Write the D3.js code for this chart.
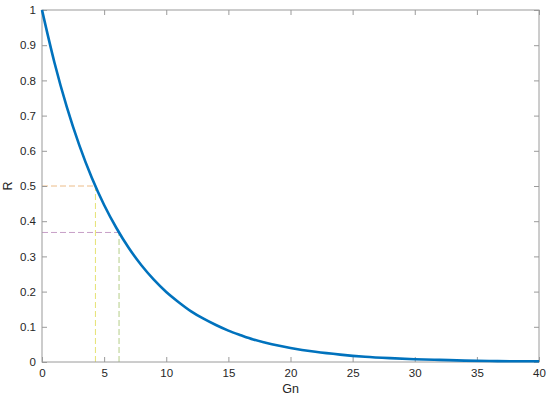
<!DOCTYPE html>
<html>
<head>
<meta charset="utf-8">
<script src="https://cdn.jsdelivr.net/npm/d3@7"></script>
<style>
  html, body { margin: 0; padding: 0; background: #fff; }
  svg { display: block; font-family: "Liberation Sans", Arial, Helvetica, sans-serif; }
</style>
</head>
<body>
<svg id="chart" width="550" height="400"></svg>
<script>
// Data
const gn = [0, 1, 2, 3, 4, 5, 6, 7, 8, 9, 10, 11, 12, 13, 14, 15, 16, 17, 18, 19, 20,
            22, 24, 26, 28, 30, 32, 34, 36, 38, 40];
const rValues = [1.000, 0.851, 0.724, 0.616, 0.524, 0.446, 0.380, 0.323, 0.275, 0.234, 0.199,
                 0.170, 0.144, 0.123, 0.105, 0.089, 0.076, 0.064, 0.055, 0.047, 0.040,
                 0.029, 0.021, 0.015, 0.011, 0.008, 0.006, 0.004, 0.003, 0.002, 0.002];
const xTicks = [0, 5, 10, 15, 20, 25, 30, 35, 40];
const yTicks = [0, 0.1, 0.2, 0.3, 0.4, 0.5, 0.6, 0.7, 0.8, 0.9, 1];
const markerGn = [4.3, 6.2];
const markerR = [0.5, 0.368];
const markerHColors = ["#ecbc88", "#c79fc7"];
const markerVColors = ["#e6e274", "#b5cd88"];

(function () {
const svg = d3.select("#chart");
const mLeft = 42, mRight = 539, mTop = 10, mBottom = 362;

const x = d3.scaleLinear().domain([0, 40]).range([mLeft, mRight]);
const y = d3.scaleLinear().domain([0, 1]).range([mBottom, mTop]);

const axisColor = "#9a9a9a";
const textColor = "#262626";

// dashed reference lines
markerGn.forEach((g, i) => {
  svg.append("line")
    .attr("x1", x(0)).attr("x2", x(g))
    .attr("y1", y(markerR[i])).attr("y2", y(markerR[i]))
    .attr("stroke", markerHColors[i]).attr("stroke-width", 1)
    .attr("stroke-dasharray", "6,3");
  svg.append("line")
    .attr("x1", x(g)).attr("x2", x(g))
    .attr("y1", y(0)).attr("y2", y(markerR[i]))
    .attr("stroke", markerVColors[i]).attr("stroke-width", 1)
    .attr("stroke-dasharray", "6,3");
});

// box
svg.append("rect")
  .attr("x", mLeft).attr("y", mTop)
  .attr("width", mRight - mLeft).attr("height", mBottom - mTop)
  .attr("fill", "none").attr("stroke", axisColor).attr("stroke-width", 1);

// axes (ticks inside)
const xAxisB = d3.axisBottom(x).tickValues(xTicks).tickFormat(d3.format("d")).tickSizeInner(-5).tickSizeOuter(0).tickPadding(7);
const xAxisT = d3.axisTop(x).tickValues(xTicks).tickFormat("").tickSizeInner(-5).tickSizeOuter(0);
const yAxisL = d3.axisLeft(y).tickValues(yTicks).tickFormat(d => d === 0 || d === 1 ? String(d) : d3.format(".1f")(d)).tickSizeInner(-5).tickSizeOuter(0).tickPadding(6);
const yAxisR = d3.axisRight(y).tickValues(yTicks).tickFormat("").tickSizeInner(-5).tickSizeOuter(0);

function style(g) {
  g.select(".domain").remove();
  g.selectAll(".tick line").attr("stroke", axisColor);
  g.selectAll(".tick text").attr("fill", textColor).style("font-size", "11.5px")
    .style("font-family", "'Liberation Sans', Arial, sans-serif");
}
svg.append("g").attr("transform", `translate(0,${mBottom})`).call(xAxisB).call(style);
svg.append("g").attr("transform", `translate(0,${mTop})`).call(xAxisT).call(style);
svg.append("g").attr("transform", `translate(${mLeft},0)`).call(yAxisL).call(style);
svg.append("g").attr("transform", `translate(${mRight},0)`).call(yAxisR).call(style);

// curve
const line = d3.line()
  .x((d, i) => x(gn[i]))
  .y(d => y(d))
  .curve(d3.curveMonotoneX);
svg.append("path")
  .datum(rValues)
  .attr("d", line)
  .attr("fill", "none")
  .attr("stroke", "#0072BD")
  .attr("stroke-width", 2.6);

// axis labels
svg.append("text")
  .attr("x", (mLeft + mRight) / 2).attr("y", 393)
  .attr("text-anchor", "middle")
  .attr("fill", textColor).style("font-size", "12.5px")
  .text("Gn");
svg.append("text")
  .attr("transform", `translate(12,${(mTop + mBottom) / 2}) rotate(-90)`)
  .attr("text-anchor", "middle")
  .attr("fill", textColor).style("font-size", "12.5px")
  .text("R");
})();
</script>
</body>
</html>
